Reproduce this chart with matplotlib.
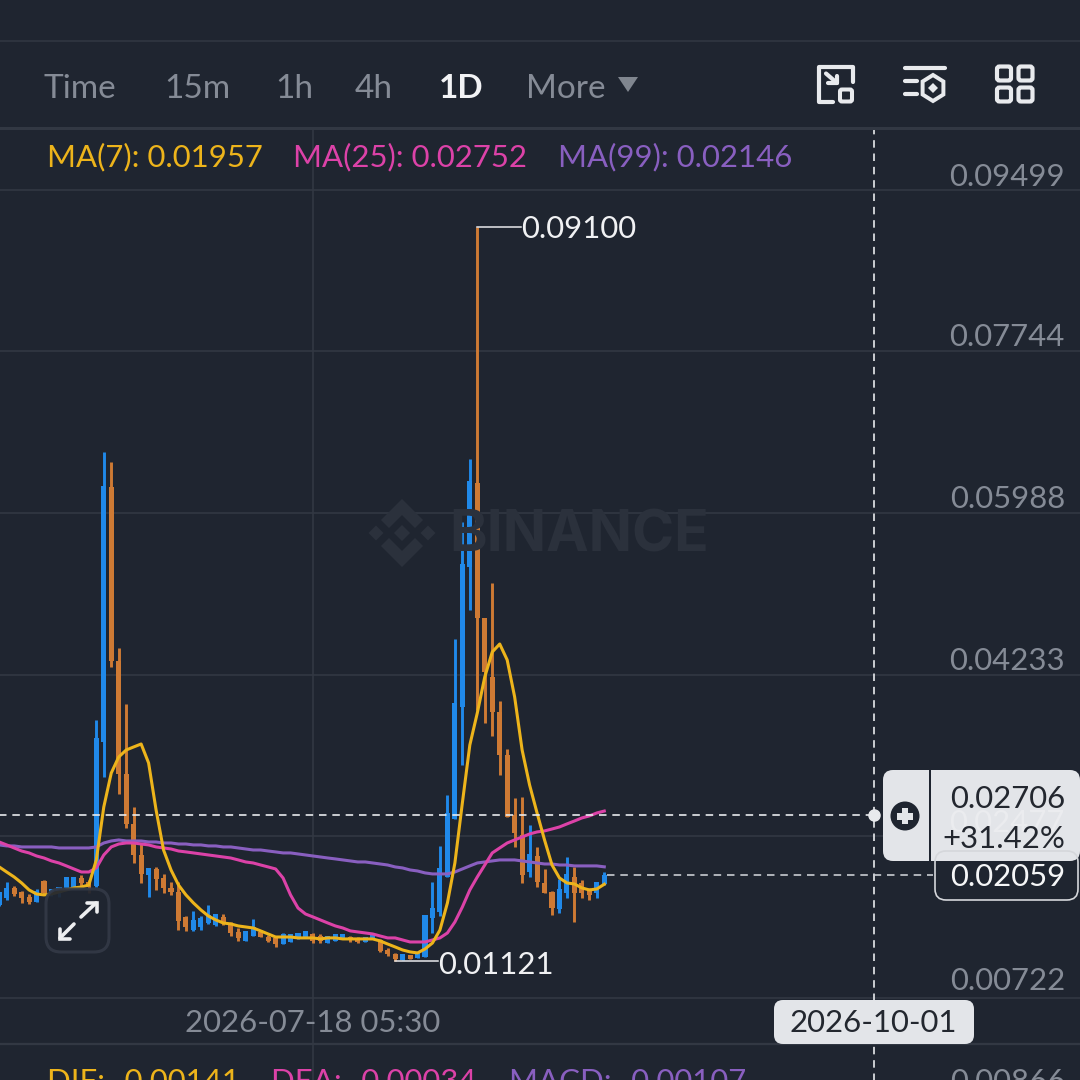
import matplotlib
matplotlib.use("Agg")
import matplotlib.pyplot as plt
from matplotlib.patches import FancyBboxPatch, Polygon, Circle, Rectangle
import numpy as np

plt.rcParams['font.family'] = ['Lato', 'DejaVu Sans']

# ---------- data (prices) ----------
high = [.01873,.01982,.01938,.01884,.01851,.01906,.02003,.01906,.01927,.02036,.02036,.02058,.02003,.03741,.06652,.06543,.04523,.03915,.02796,.02405,.02134,.02145,.02069,.01982,.01982,.01612,.01667,.01612,.01732,.01634,.01634,.01547,.01482,.01450,.01580,.01460,.01406,.01384,.01428,.01417,.01428,.01450,.01428,.01417,.01395,.01417,.01417,.01395,.01384,.01384,.01406,.01363,.01265,.01211,.01200,.01189,.01211,.01623,.01982,.02373,.02927,.04621,.05891,.06576,.09100,.04849,.05229,.03947,.03426,.02894,.02905,.02601,.02362,.02123,.01884,.02014,.02253,.02145,.02003,.01917,.01982,.02090]
body_top = [.01873,.01917,.01917,.01873,.01819,.01884,.01993,.01906,.01927,.02036,.02036,.02025,.01982,.03546,.06282,.06271,.04382,.03155,.02612,.02275,.02134,.02123,.02025,.01917,.01873,.01602,.01569,.01591,.01623,.01634,.01602,.01515,.01439,.01450,.01493,.01439,.01384,.01374,.01417,.01417,.01428,.01450,.01417,.01395,.01395,.01417,.01417,.01384,.01363,.01384,.01406,.01352,.01243,.01200,.01200,.01189,.01211,.01623,.01699,.02134,.02731,.03926,.05435,.06337,.06315,.04849,.04208,.03828,.03361,.02709,.02492,.02286,.02264,.01971,.01873,.01906,.02069,.02036,.01971,.01906,.01982,.02059]
body_bot = [.01732,.01808,.01851,.01808,.01764,.01764,.01862,.01841,.01862,.01917,.01917,.01971,.01927,.01938,.03502,.04382,.03155,.02612,.02275,.02069,.02058,.02014,.01917,.01873,.01558,.01493,.01460,.01493,.01536,.01515,.01536,.01428,.01374,.01341,.01395,.01384,.01341,.01308,.01308,.01330,.01363,.01374,.01341,.01341,.01319,.01341,.01363,.01352,.01330,.01330,.01363,.01232,.01200,.01146,.01135,.01146,.01156,.01167,.01591,.01656,.02036,.02666,.03882,.05403,.04849,.04262,.03828,.03361,.02688,.02514,.02058,.02090,.01982,.01862,.01699,.01688,.01862,.01862,.01862,.01841,.01862,.01960]
low = [.01721,.01786,.01830,.01754,.01743,.01764,.01841,.01830,.01819,.01906,.01906,.01938,.01862,.01927,.03122,.04317,.02937,.02568,.02188,.01971,.01819,.01895,.01862,.01841,.01460,.01450,.01450,.01460,.01526,.01504,.01515,.01395,.01341,.01341,.01395,.01384,.01330,.01276,.01308,.01330,.01363,.01374,.01319,.01319,.01319,.01341,.01363,.01330,.01319,.01330,.01363,.01222,.01178,.01121,.01135,.01146,.01156,.01167,.01428,.01612,.02036,.02666,.03252,.04936,.03850,.03709,.03567,.03144,.02688,.02362,.01971,.02036,.01927,.01862,.01623,.01645,.01808,.01547,.01808,.01786,.01808,.01949]
is_up = [1,1,0,0,0,1,0,1,1,1,1,0,0,1,1,0,0,0,0,0,1,0,0,0,0,0,1,1,1,1,0,0,0,1,1,0,0,0,1,1,1,1,0,0,1,1,1,0,0,1,1,0,0,0,1,0,1,1,1,1,1,1,1,1,0,0,0,0,0,0,0,1,0,0,0,1,1,0,0,0,1,1]
ma7 = [.02145,.02090,.02036,.01971,.01895,.01851,.01841,.01851,.01873,.01895,.01917,.01927,.01949,.02221,.02796,.03165,.03339,.03415,.03448,.03480,.03274,.02764,.02329,.02112,.01949,.01841,.01754,.01678,.01612,.01569,.01536,.01526,.01504,.01493,.01482,.01450,.01417,.01384,.01384,.01384,.01374,.01374,.01374,.01363,.01374,.01374,.01363,.01363,.01363,.01363,.01363,.01341,.01308,.01276,.01243,.01222,.01211,.01254,.01319,.01460,.01754,.02188,.02840,.03469,.03817,.04208,.04479,.04566,.04393,.03991,.03415,.03035,.02731,.02438,.02166,.02025,.01971,.01960,.01917,.01895,.01906,.01957]
ma25 = [.02416,.02384,.02351,.02318,.02297,.02264,.02242,.02210,.02188,.02156,.02123,.02090,.02090,.02134,.02275,.02362,.02394,.02405,.02405,.02394,.02384,.02362,.02351,.02340,.02318,.02308,.02297,.02286,.02275,.02264,.02253,.02242,.02221,.02199,.02188,.02166,.02145,.02123,.02025,.01841,.01699,.01634,.01602,.01569,.01536,.01504,.01482,.01450,.01439,.01428,.01417,.01395,.01374,.01374,.01352,.01330,.01330,.01330,.01352,.01374,.01428,.01547,.01710,.01895,.02036,.02166,.02297,.02351,.02405,.02438,.02470,.02503,.02525,.02536,.02557,.02579,.02612,.02644,.02677,.02699,.02731,.02752]
ma99 = [.02384,.02373,.02373,.02362,.02362,.02362,.02362,.02362,.02351,.02351,.02351,.02351,.02351,.02362,.02405,.02427,.02438,.02427,.02427,.02427,.02416,.02416,.02405,.02405,.02394,.02394,.02384,.02384,.02373,.02373,.02362,.02362,.02351,.02340,.02329,.02329,.02318,.02308,.02297,.02297,.02286,.02275,.02264,.02253,.02242,.02232,.02221,.02210,.02199,.02199,.02188,.02177,.02166,.02145,.02134,.02112,.02101,.02080,.02069,.02069,.02069,.02090,.02123,.02156,.02188,.02199,.02210,.02221,.02221,.02221,.02210,.02199,.02188,.02177,.02177,.02166,.02166,.02156,.02156,.02156,.02156,.02146]
price_ticks = [.09499,.07744,.05988,.04233,.02477,.00722]
tabs = ["Time","15m","1h","4h","1D","More"]
last_price = 0.02059
cross_price = 0.02706
cross_change = "+31.42%"
date_tick = "2026-07-18 05:30"
cross_date = "2026-10-01"
high_idx = 64
low_idx = 53
date_tick_idx = 42
cross_idx = 117.1
macd_tick = "0.00866"

BG = "#1F2530"; GRID = "#323843"; GREY = "#858B96"; LIGHT = "#E3E5E9"; DARK = "#1F2530"
BLUE = "#2089E9"; ORANGE = "#CE7A34"; YEL = "#EDB41B"; PINK = "#DC42A8"; PUR = "#895FC0"
FS = 22.4
TY = 2.5

fig = plt.figure(figsize=(10.8, 10.8), dpi=100, facecolor=BG)
# chart axes: full figure, candle index on x, price on y
ax = fig.add_axes([0, 0, 1, 1], facecolor=BG)
ax.set_xlim(0.107, 144.68)
ax.set_ylim(-0.00169, 0.1156)
ax.axis("off")
# overlay for interface furniture, in pixels
ui = fig.add_axes([0, 0, 1, 1], facecolor="none")
ui.set_xlim(0, 1080); ui.set_ylim(1080, 0); ui.axis("off")

# grid
for p in price_ticks:
    ax.axhline(p, color=GRID, lw=1.2, zorder=1)
ax.plot([date_tick_idx]*2, [-0.01, 0.1016], color=GRID, lw=1.2, zorder=1)

# watermark
WM = "#2B313C"
cx, cy = 402, 533
def dia(x, y, r):
    ui.add_patch(Polygon([(x-r,y),(x,y-r),(x+r,y),(x,y+r)], closed=True, color=WM, lw=0, zorder=0.5))
dia(cx, cy, 8); dia(cx-26, cy, 7.5); dia(cx+26, cy, 7.5)
ui.add_patch(Polygon([(cx,cy-34),(cx+21,cy-13),(cx+13,cy-5),(cx,cy-18),(cx-13,cy-5),(cx-21,cy-13)], closed=True, color=WM, lw=0, zorder=0.5))
ui.add_patch(Polygon([(cx,cy+34),(cx+21,cy+13),(cx+13,cy+5),(cx,cy+18),(cx-13,cy+5),(cx-21,cy+13)], closed=True, color=WM, lw=0, zorder=0.5))
ui.text(449, 537, "BINANCE", color=WM, fontsize=41, fontweight="bold", va="center", ha="left", family="Inter", zorder=0.5)

# candles
x = np.arange(len(high))
cols = [BLUE if u else ORANGE for u in is_up]
ax.vlines(x, low, high, colors=cols, lw=2.1, zorder=3)
ax.bar(x, np.array(body_top) - np.array(body_bot), bottom=body_bot, width=0.68, color=cols, lw=0, zorder=3)

# moving averages
ax.plot(x, ma99, color=PUR, lw=2.2, zorder=4)
ax.plot(x, ma25, color=PINK, lw=2.2, zorder=4.1)
ax.plot(x, ma7, color=YEL, lw=2.2, zorder=4.2)

# hi/lo markers
ax.plot([high_idx, high_idx+5.9], [high[high_idx]]*2, color="#E8EAED", lw=1.1, zorder=5)
ax.annotate("0.09100", (high_idx+5.9, high[high_idx]), xytext=(0, -2), textcoords="offset points",
            color="#F0F1F3", fontsize=FS, va="center", ha="left", zorder=6)
ax.plot([low_idx, low_idx+5.8], [low[low_idx]]*2, color="#E8EAED", lw=1.1, zorder=5)
ax.annotate("0.01121", (low_idx+5.8, low[low_idx]), xytext=(0, -2.5), textcoords="offset points",
            color="#F0F1F3", fontsize=FS, va="center", ha="left", zorder=6)

# crosshair
dash = (0, (4.5, 3.5))
ax.plot([0, cross_idx], [cross_price]*2, color="#E8EAED", lw=1.2, ls=dash, zorder=6)
ax.plot([cross_idx]*2, [-0.01, 0.1016], color="#E8EAED", lw=1.2, ls=dash, zorder=6)
ax.plot([81.4, 125], [last_price]*2, color="#C9CCD2", lw=1.2, ls=dash, zorder=6)
ax.plot([cross_idx], [cross_price], "o", ms=8, color="#E8EAED", zorder=7)

# header lines
ui.plot([0,1080],[40.5,40.5], color=GRID, lw=1.1)
ui.plot([0,1080],[128,128], color=GRID, lw=2.2)
ui.plot([0,1080],[1044,1044], color=GRID, lw=1.6)

# tabs
tab_x = [44,164,275,355,439,526]
for t, tx in zip(tabs, tab_x):
    act = t == "1D"
    ui.text(tx, 86+TY, t, color="#F2F3F5" if act else GREY, fontsize=24, va="center", ha="left",
            fontweight="bold" if act else "normal")
ui.add_patch(Polygon([(618,77),(638,77),(628,92)], closed=True, color="#80868F", lw=0))

# top-right icons
W = "#E8EAED"; LW = 3.0
def L(xs, ys, lw=LW):
    ui.plot(xs, ys, color=W, lw=lw, solid_capstyle="round", solid_joinstyle="round")
L([852.5,852.5,818.5,818.5,833], [82,66.5,66.5,101.5,101.5])
ui.add_patch(FancyBboxPatch((840,89.5),12,12,boxstyle="round,pad=0,rounding_size=2",fc="none",ec=W,lw=2.9))
L([826,837],[73.5,83]); L([827.5,837,837],[83,83,76])
L([905,945],[67.5,67.5]); L([905,916.5],[81,81]); L([905,916.5],[94,94])
ang = np.deg2rad(np.arange(6)*60+30)
ui.add_patch(Polygon(np.c_[933+12*np.cos(ang), 88+13*np.sin(ang)], closed=True, fc="none", ec=W, lw=LW*0.95))
ui.add_patch(Polygon([(933,83),(938,88),(933,93),(928,88)], closed=True, color=W, lw=0))
for xx in (997,1018.5):
    for yy in (66.5,87.5):
        ui.add_patch(FancyBboxPatch((xx,yy),14,14,boxstyle="round,pad=0,rounding_size=2.5",fc="none",ec=W,lw=LW))

# MA legends
for s, c, xx in [("MA(7): 0.01957",YEL,47),("MA(25): 0.02752",PINK,293),("MA(99): 0.02146",PUR,558)]:
    ui.text(xx, 155+TY, s, color=c, fontsize=FS, va="center", ha="left")

# price labels
for t, yy in zip(["0.09499","0.07744","0.05988","0.04233","0.00722"], [174,335,497,658,978]):
    ui.text(1065, yy+TY, t, color=GREY, fontsize=FS, va="center", ha="right")

# expand button
ui.add_patch(FancyBboxPatch((46,889),63,63,boxstyle="round,pad=0,rounding_size=15",fc=DARK,ec="#333946",lw=2.2,zorder=8,alpha=0.93))
def A(xs, ys):
    ui.plot(xs, ys, color="#EDEEF0", lw=2.6, zorder=9, solid_capstyle="round", solid_joinstyle="miter")
A([81,96],[917,903]); A([86.5,96.5,96.5],[902.5,902.5,912])
A([74,60],[924,938]); A([59.5,59.5,69.5],[928.5,938.5,938.5])

# last price box, crosshair box
ui.add_patch(FancyBboxPatch((935,851),143,49,boxstyle="round,pad=0,rounding_size=11",fc=DARK,ec="none",zorder=10))
ui.add_patch(FancyBboxPatch((883,770),197,91,boxstyle="round,pad=0,rounding_size=10",fc=LIGHT,ec="none",zorder=11))
ui.add_patch(FancyBboxPatch((935,851),143,49,boxstyle="round,pad=0,rounding_size=11",fc="none",ec="#D5D7DB",lw=1.2,zorder=12))
ui.add_patch(Rectangle((928.5,770),2.5,91,color=DARK,lw=0,zorder=12))
ui.text(1065, 820+TY, "0.02477", color="#EBECEF", fontsize=FS, va="center", ha="right", zorder=12)
ui.add_patch(Circle((905,816),14.5,color=DARK,lw=0,zorder=12))
ui.add_patch(Rectangle((897,813),16,6.5,color=LIGHT,lw=0,zorder=13))
ui.add_patch(Rectangle((901.8,808),6.5,16,color=LIGHT,lw=0,zorder=13))
ui.text(1065, 796+TY, f"{cross_price:.5f}", color="#23272F", fontsize=FS, va="center", ha="right", zorder=13)
ui.text(1065, 836+TY, cross_change, color="#23272F", fontsize=FS, va="center", ha="right", zorder=13)
ui.text(1065, 875+TY, f"{last_price:.5f}", color="#F5F6F7", fontsize=FS, va="center", ha="right", zorder=13)

# date labels
ui.text(313, 1021+TY, date_tick, color=GREY, fontsize=FS, va="center", ha="center")
ui.add_patch(FancyBboxPatch((774,1000),200,44,boxstyle="round,pad=0,rounding_size=9",fc=LIGHT,ec="none",zorder=7))
ui.text(873.5, 1021+TY, cross_date, color="#23272F", fontsize=FS, va="center", ha="center", zorder=8)

# MACD legend (cut by the lower edge)
for s, c, xx in [("DIF: -0.00141",YEL,47),("DEA: -0.00034",PINK,271),("MACD: -0.00107",PUR,509)]:
    ui.text(xx, 1082, s, color=c, fontsize=FS, va="center", ha="left", clip_on=True)
ui.text(1065, 1082, macd_tick, color=GREY, fontsize=FS, va="center", ha="right", clip_on=True)

fig.savefig("out.png", dpi=100, facecolor=BG)
